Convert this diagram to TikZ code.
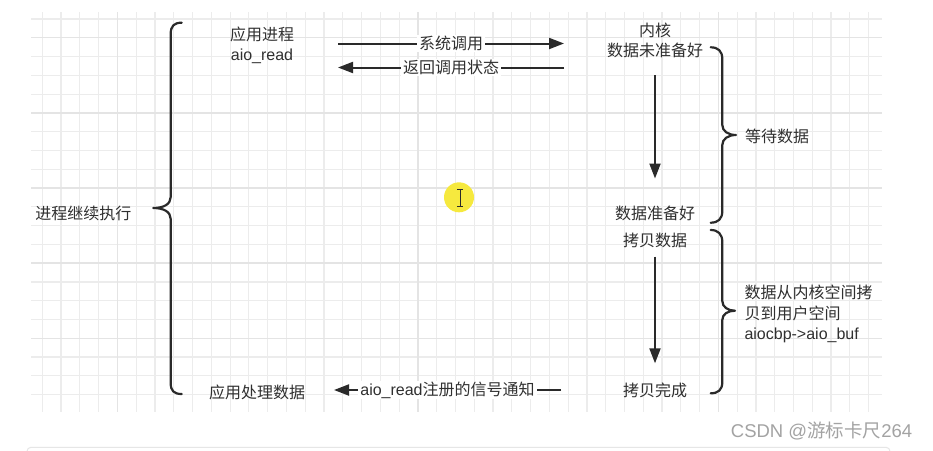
\documentclass[tikz,border=0pt]{standalone}
\usepackage{fontspec}
\setmainfont{Noto Sans CJK SC}
\newfontfamily\lat{Liberation Sans}
\usetikzlibrary{arrows.meta}
\definecolor{ink}{HTML}{2A2A2A}
\definecolor{txtc}{HTML}{303030}
\definecolor{gridc}{HTML}{ECECEC}
\definecolor{gridm}{HTML}{E4E4E4}
\definecolor{wm}{HTML}{A3A3A3}
\definecolor{barc}{HTML}{E6E6E6}
\definecolor{cursorhl}{HTML}{F6E93E}
\begin{document}
\begin{tikzpicture}[x=1pt,y=-1pt,
  txt/.style={inner sep=0pt, text=txtc, font=\fontsize{16}{20}\selectfont, anchor=base},
  lbl/.style={inner sep=0pt, text=txtc, font=\fontsize{16}{20}\selectfont, fill=white, inner xsep=2pt, inner ysep=1pt},
  arr/.style={draw=ink, line width=2pt, -{Triangle[length=15pt,width=11pt]}},
  bracestyle/.style={draw=ink, line width=2.2pt, line cap=round, line join=round},
  gridln/.style={draw=gridc, line width=1.2pt},
  gridmaj/.style={draw=gridm, line width=1.4pt}]
\useasboundingbox (0,0) rectangle (933,450);
\fill[white] (0,0) rectangle (933,450);
% grid
\foreach \k in {0,...,44} { \draw[gridln] ({42.3+18.78*\k},12) -- ({42.3+18.78*\k},412); }
\foreach \j in {0,...,20} { \draw[gridln] (31,{19+18.78*\j}) -- (882,{19+18.78*\j}); }
\foreach \k in {4,20,36} { \draw[gridmaj] ({42.3+18.78*\k},12) -- ({42.3+18.78*\k},412); }
\foreach \j in {1,5,9,13,17} { \draw[gridmaj] (31,{19+18.78*\j}) -- (882,{19+18.78*\j}); }
% bottom bar
\draw[barc, line width=1pt, rounded corners=4pt] (27,470) -- (27,447.3) -- (890,447.3) -- (890,470);

% left brace
\draw[bracestyle] (181.7,22.7) .. controls (174,22.7) and (170.7,26) .. (170.7,34)
  -- (170.7,197) .. controls (170.7,204) and (164,208) .. (153.3,208)
  .. controls (164,208) and (170.7,212) .. (170.7,219)
  -- (170.7,383) .. controls (170.7,391) and (174,394) .. (181.7,394);
% right brace 1
\draw[bracestyle] (710.7,47.3) .. controls (718,47.3) and (722.3,51) .. (722.3,59)
  -- (722.3,125) .. controls (722.3,131) and (728,135) .. (736,135)
  .. controls (728,135) and (722.3,139) .. (722.3,145)
  -- (722.3,211) .. controls (722.3,219) and (718,222.7) .. (710.7,222.7);
% right brace 2
\draw[bracestyle] (710.7,230) .. controls (718,230) and (722.3,234) .. (722.3,242)
  -- (722.3,301) .. controls (722.3,307) and (728,310.7) .. (735,310.7)
  .. controls (728,310.7) and (722.3,314) .. (722.3,320)
  -- (722.3,382) .. controls (722.3,390) and (718,393.3) .. (710.7,393.3);

% texts
\node[txt] (app) at (262,40) {应用进程};
\node[txt] (aio) at (262,60) {\lat aio\_read};
\node[txt] (kern) at (655,36.7) {内核};
\node[txt] (notready) at (655,56.7) {数据未准备好};
\node[txt, anchor=base west] (wait) at (745,142.7) {等待数据};
\node[txt] (ready) at (655,219.3) {数据准备好};
\node[txt] (copy) at (655,246) {拷贝数据};
\node[txt] (done) at (655,396.7) {拷贝完成};
\node[txt] (proc) at (257,398.3) {应用处理数据};
\node[txt] (cont) at (83.3,219.3) {进程继续执行};
\node[txt, anchor=base west] (c1) at (744.3,298.5) {数据从内核空间拷};
\node[txt, anchor=base west] (c2) at (744.3,319) {贝到用户空间};
\node[txt, anchor=base west] (c3) at (744.3,339) {\lat aiocbp-{}>aio\_buf};

% arrows
\coordinate (a1s) at (338,43.5);
\coordinate (a1e) at (564,43.5);
\draw[arr] (a1s) -- node[lbl] (l1) {系统调用} (a1e);
\coordinate (a2s) at (564,67.5);
\coordinate (a2e) at (338,67.5);
\draw[arr] (a2s) -- node[lbl] (l2) {返回调用状态} (a2e);
\coordinate (d1s) at (655,75);
\coordinate (d1e) at (655,178.5);
\draw[arr] (d1s) -- (d1e);
\coordinate (d2s) at (655,256.7);
\coordinate (d2e) at (655,363.3);
\draw[arr] (d2s) -- (d2e);
\coordinate (a3s) at (561,390);
\coordinate (a3e) at (334,390);
\draw[arr] (a3s) -- node[lbl] (l3) {{\lat aio\_read}注册的信号通知} (a3e);

% cursor highlight
\fill[cursorhl] (459,197.3) circle (15);
\draw[ink, line width=1pt] (460,189.5) -- (460,206);
\draw[ink, line width=0.8pt] (457,189.5) -- (463,189.5);
\draw[ink, line width=0.8pt] (457,206) -- (463,206);

% watermark
\node[anchor=base west, inner sep=0pt, text=wm, font=\fontsize{18.5}{20}\selectfont] (wmk) at (730.7,437) {{\lat CSDN @}游标卡尺{\lat 264}};
\end{tikzpicture}
\end{document}
